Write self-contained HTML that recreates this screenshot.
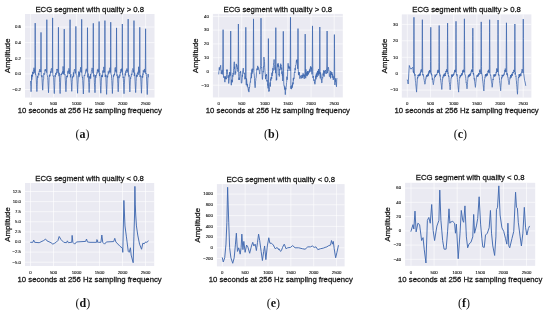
<!DOCTYPE html>
<html><head><meta charset="utf-8"><title>ECG segments</title>
<style>
html,body{margin:0;padding:0;background:#fff;}
svg{display:block}
.t{font-family:"Liberation Sans",Arial,sans-serif;fill:#141414;stroke:#141414;stroke-width:0.25}
.tt{font-size:7.75px;text-anchor:middle}
.tk{font-size:4.3px;stroke-width:0.12}
.cap{font-family:"Liberation Serif","Times New Roman",serif;font-size:12px;fill:#111;text-anchor:middle}
.g{stroke:#fff;stroke-width:0.6;fill:none}
.d{stroke:#4169B0;fill:none;stroke-linejoin:round;stroke-linecap:round}
</style></head><body>
<svg width="550" height="313" viewBox="0 0 550 313">
<rect width="550" height="313" fill="#fff"/>

<g id="panel-a">
<rect x="25.00" y="14.00" width="129.50" height="83.55" fill="#EAEAF2"/>
<path class="g" d="M30.60 14.00V97.55M53.60 14.00V97.55M76.60 14.00V97.55M99.60 14.00V97.55M122.60 14.00V97.55M145.60 14.00V97.55M25.00 27.00H154.50M25.00 42.60H154.50M25.00 58.20H154.50M25.00 73.90H154.50M25.00 89.50H154.50"/>
<clipPath id="cp0"><rect x="25.00" y="14.00" width="129.50" height="83.55"/></clipPath>
<polyline class="d" stroke-width="0.8" clip-path="url(#cp0)" points="30.50,81.30 30.80,86.29 31.07,91.69 31.10,90.92 31.40,84.91 31.70,74.82 31.71,79.77 32.00,74.95 32.06,76.01 32.30,74.82 32.59,76.50 32.60,71.88 32.90,73.21 33.17,72.30 33.20,74.12 33.50,69.88 33.80,69.74 34.04,67.76 34.10,69.23 34.40,71.29 34.50,69.57 34.70,73.17 34.94,72.50 35.00,60.89 35.20,23.10 35.30,45.22 35.43,74.50 35.60,73.68 35.90,75.25 36.07,76.69 36.20,77.61 36.50,84.22 36.80,89.97 36.88,91.57 37.10,86.79 37.40,80.29 37.52,76.05 37.70,76.85 37.87,77.76 38.00,76.32 38.30,74.53 38.40,73.45 38.60,73.00 38.90,75.24 38.98,72.87 39.20,70.97 39.50,70.71 39.80,71.85 39.85,69.06 40.10,70.84 40.31,71.39 40.40,70.84 40.70,70.85 40.75,72.05 41.00,33.93 41.01,32.40 41.24,74.50 41.30,75.85 41.60,75.71 41.88,77.15 41.90,75.34 42.20,82.09 42.50,87.07 42.69,90.18 42.80,88.39 43.10,82.16 43.33,78.97 43.40,79.12 43.68,78.44 43.70,73.75 44.00,73.12 44.21,73.94 44.30,74.52 44.60,74.52 44.79,73.21 44.90,69.66 45.20,70.55 45.50,70.68 45.66,69.20 45.80,70.53 46.10,70.61 46.12,70.74 46.40,72.20 46.56,72.50 46.70,43.93 46.82,19.70 47.00,62.14 47.05,74.50 47.30,75.24 47.60,77.25 47.69,77.56 47.90,80.50 48.20,86.23 48.50,92.25 48.50,92.77 48.80,85.66 49.10,78.09 49.14,77.56 49.40,75.30 49.49,76.51 49.70,74.62 50.00,76.22 50.02,75.12 50.30,74.49 50.60,71.38 50.60,73.00 50.90,72.40 51.20,68.86 51.47,68.55 51.50,69.09 51.80,68.61 51.93,71.41 52.10,72.68 52.37,71.38 52.40,65.93 52.63,17.90 52.70,34.95 52.86,74.50 53.00,76.28 53.30,76.06 53.50,75.97 53.60,77.21 53.90,85.46 54.20,92.48 54.31,93.58 54.50,89.92 54.80,82.18 54.95,77.94 55.10,75.15 55.30,76.72 55.40,75.18 55.70,74.05 55.83,73.00 56.00,74.78 56.30,74.16 56.41,71.99 56.60,72.61 56.90,69.10 57.20,70.29 57.28,68.96 57.50,69.66 57.74,70.87 57.80,72.33 58.10,73.21 58.18,72.50 58.40,34.22 58.44,27.30 58.67,74.50 58.70,74.87 59.00,76.16 59.30,75.57 59.31,72.83 59.60,82.58 59.90,89.44 60.12,93.57 60.20,91.49 60.50,84.01 60.76,77.35 60.80,77.33 61.10,74.21 61.11,74.93 61.40,73.75 61.64,74.92 61.70,74.01 62.00,74.11 62.22,72.57 62.30,73.71 62.60,71.36 62.90,72.59 63.09,66.43 63.20,68.57 63.50,71.93 63.55,74.29 63.80,71.53 63.99,72.56 64.10,54.00 64.25,29.10 64.40,58.40 64.48,74.50 64.70,74.59 65.00,74.06 65.12,76.41 65.30,80.17 65.60,85.92 65.90,91.27 65.93,91.76 66.20,86.20 66.50,79.27 66.57,77.86 66.80,76.17 66.92,77.11 67.10,75.74 67.40,77.16 67.45,76.04 67.70,74.67 68.00,70.77 68.03,73.58 68.30,72.12 68.60,71.29 68.90,70.26 68.90,68.39 69.20,71.34 69.36,70.27 69.50,74.01 69.80,72.50 69.80,72.21 70.06,19.70 70.10,29.13 70.29,74.50 70.40,77.30 70.70,75.03 70.93,74.25 71.00,78.71 71.30,82.57 71.60,87.85 71.74,91.34 71.90,87.97 72.20,81.22 72.38,79.33 72.50,77.04 72.73,77.70 72.80,76.12 73.10,76.92 73.26,74.74 73.40,72.57 73.70,76.41 73.84,72.09 74.00,71.81 74.30,69.82 74.60,69.12 74.71,69.22 74.90,70.03 75.17,71.86 75.20,73.42 75.50,71.97 75.61,72.50 75.80,38.74 75.87,26.40 76.10,74.00 76.10,74.50 76.40,74.55 76.70,75.50 76.74,76.00 77.00,80.86 77.30,87.34 77.55,93.26 77.60,92.15 77.90,84.46 78.19,79.85 78.20,75.77 78.50,75.38 78.54,75.30 78.80,71.48 79.07,77.12 79.10,74.97 79.40,72.21 79.65,75.47 79.70,73.32 80.00,71.78 80.30,69.09 80.52,69.04 80.60,67.29 80.90,71.66 80.98,70.51 81.20,71.92 81.42,72.50 81.50,55.93 81.68,19.30 81.80,47.80 81.91,74.50 82.10,76.03 82.40,77.65 82.55,76.99 82.70,80.53 83.00,85.86 83.30,92.69 83.36,93.94 83.60,88.73 83.90,80.17 84.00,79.32 84.20,75.42 84.35,75.03 84.50,75.44 84.80,75.94 84.88,74.68 85.10,74.18 85.40,73.00 85.46,73.03 85.70,70.26 86.00,70.47 86.30,68.78 86.33,68.83 86.60,70.77 86.79,70.12 86.90,71.26 87.20,72.02 87.23,72.50 87.49,27.70 87.50,29.71 87.72,74.50 87.80,77.37 88.10,73.47 88.36,74.92 88.40,75.64 88.70,82.76 89.00,89.59 89.17,92.51 89.30,89.29 89.60,82.77 89.81,76.72 89.90,78.49 90.16,76.00 90.20,77.33 90.50,74.10 90.69,78.54 90.80,75.32 91.10,74.17 91.27,72.73 91.40,71.26 91.70,69.73 92.00,69.34 92.14,67.86 92.30,70.00 92.60,69.91 92.60,71.81 92.90,73.27 93.04,72.50 93.20,42.12 93.30,23.30 93.50,67.36 93.53,74.50 93.80,76.59 94.10,74.54 94.17,75.86 94.40,82.80 94.70,87.13 94.98,92.71 95.00,92.36 95.30,84.63 95.60,75.35 95.62,76.96 95.90,77.66 95.97,75.03 96.20,75.59 96.50,74.46 96.50,74.60 96.80,73.44 97.08,72.57 97.10,73.29 97.40,69.82 97.70,71.32 97.95,70.10 98.00,68.88 98.30,71.54 98.41,70.09 98.60,70.95 98.85,72.50 98.90,62.46 99.11,21.50 99.20,42.02 99.34,74.50 99.50,76.09 99.80,73.05 99.98,76.46 100.10,78.36 100.40,85.70 100.70,92.37 100.79,93.21 101.00,89.14 101.30,81.15 101.43,77.53 101.60,75.99 101.78,76.71 101.90,74.84 102.20,77.19 102.31,75.33 102.50,76.78 102.80,72.05 102.89,70.52 103.10,72.77 103.40,71.61 103.70,69.21 103.76,66.90 104.00,69.41 104.22,71.80 104.30,71.03 104.60,72.15 104.66,72.50 104.90,24.57 104.92,20.60 105.15,74.50 105.20,76.91 105.50,74.70 105.79,76.62 105.80,74.86 106.10,83.14 106.40,88.74 106.60,94.36 106.70,91.53 107.00,84.62 107.24,75.80 107.30,77.29 107.59,76.08 107.60,77.19 107.90,74.46 108.12,74.71 108.20,71.55 108.50,72.33 108.70,73.39 108.80,73.77 109.10,70.63 109.40,72.33 109.57,71.19 109.70,69.42 110.00,67.71 110.03,68.69 110.30,70.91 110.47,72.50 110.60,47.21 110.73,22.20 110.90,60.46 110.96,74.50 111.20,74.57 111.50,74.79 111.60,78.67 111.80,80.34 112.10,86.54 112.40,93.32 112.41,93.51 112.70,86.20 113.00,80.42 113.05,78.95 113.30,77.25 113.40,75.47 113.60,76.71 113.90,74.58 113.93,75.21 114.20,75.09 114.50,73.87 114.51,75.13 114.80,72.07 115.10,67.95 115.38,67.39 115.40,70.75 115.70,69.92 115.84,71.50 116.00,70.43 116.28,72.50 116.30,68.84 116.54,27.90 116.60,39.93 116.77,74.50 116.90,75.68 117.20,74.56 117.41,77.43 117.50,76.57 117.80,83.32 118.10,89.82 118.22,91.76 118.40,87.80 118.70,81.09 118.86,76.20 119.00,78.12 119.21,76.39 119.30,75.34 119.60,74.72 119.74,75.19 119.90,76.39 120.20,74.29 120.32,72.14 120.50,72.99 120.80,70.48 121.10,69.04 121.19,71.33 121.40,69.31 121.65,70.38 121.70,68.62 122.00,70.37 122.09,72.50 122.30,33.28 122.35,24.00 122.58,74.50 122.60,73.54 122.90,76.12 123.20,77.85 123.22,76.77 123.50,82.39 123.80,88.97 124.03,93.71 124.10,91.33 124.40,84.23 124.67,78.32 124.70,76.82 125.00,76.31 125.02,73.55 125.30,73.99 125.55,75.29 125.60,71.52 125.90,72.06 126.13,72.78 126.20,70.24 126.50,71.20 126.80,68.75 127.00,68.52 127.10,69.02 127.40,70.96 127.46,70.27 127.70,71.93 127.90,72.50 128.00,51.78 128.16,19.10 128.30,52.47 128.39,74.72 128.60,73.47 128.90,76.59 129.03,75.01 129.20,78.16 129.50,85.15 129.80,90.71 129.84,91.93 130.10,86.47 130.40,79.13 130.48,77.67 130.70,78.61 130.83,76.86 131.00,76.21 131.30,76.40 131.36,73.81 131.60,74.67 131.90,74.75 131.94,74.91 132.20,70.57 132.50,69.95 132.80,69.43 132.81,68.52 133.10,69.71 133.27,71.89 133.40,70.98 133.70,70.15 133.71,72.50 133.97,20.60 134.00,27.56 134.20,72.46 134.30,76.05 134.60,72.54 134.84,73.79 134.90,76.86 135.20,83.97 135.50,90.27 135.65,92.55 135.80,89.41 136.10,81.62 136.29,78.81 136.40,75.00 136.64,75.41 136.70,76.83 137.00,74.63 137.17,76.51 137.30,73.05 137.60,73.73 137.75,73.91 137.90,71.93 138.20,72.57 138.50,70.14 138.62,66.77 138.80,74.87 139.08,71.84 139.10,71.20 139.40,70.27 139.52,72.50 139.70,41.13 139.78,27.30 140.00,71.98 140.01,76.91 140.30,75.36 140.60,76.55 140.65,76.48 140.90,81.07 141.20,87.26 141.46,93.23 141.50,92.26 141.80,84.53 142.10,76.15 142.10,77.41 142.40,77.40 142.45,75.56 142.70,77.40 142.98,73.59 143.00,74.71 143.30,70.32 143.56,72.03 143.60,72.20 143.90,71.93 144.20,72.14 144.43,68.95 144.50,71.12 144.80,71.44 144.89,72.28 145.10,71.11 145.33,72.50 145.40,60.56 145.59,28.80 145.70,50.43 145.82,73.83 146.00,73.02 146.30,74.95 146.46,76.46 146.60,79.04 146.90,85.39 147.20,93.28 147.27,94.53 147.50,88.84 147.80,80.82 147.91,76.64 148.10,73.96 148.26,74.41 148.40,76.93"/>
<text class="t tk" text-anchor="middle" x="30.60" y="104.90">0</text>
<text class="t tk" text-anchor="middle" x="53.60" y="104.90">500</text>
<text class="t tk" text-anchor="middle" x="76.60" y="104.90">1000</text>
<text class="t tk" text-anchor="middle" x="99.60" y="104.90">1500</text>
<text class="t tk" text-anchor="middle" x="122.60" y="104.90">2000</text>
<text class="t tk" text-anchor="middle" x="145.60" y="104.90">2500</text>
<text class="t tk" text-anchor="end" x="21.00" y="28.30">0.6</text>
<text class="t tk" text-anchor="end" x="21.00" y="43.90">0.4</text>
<text class="t tk" text-anchor="end" x="21.00" y="59.50">0.2</text>
<text class="t tk" text-anchor="end" x="21.00" y="75.20">0.0</text>
<text class="t tk" text-anchor="end" x="21.00" y="90.80">−0.2</text>
<text class="t tt" transform="translate(89.75 11.50) scale(1 1.03)">ECG segment with quality &gt; 0.8</text>
<text class="t tt" transform="translate(89.75 113.20) scale(1 1.03)">10 seconds at 256 Hz sampling frequency</text>
<text class="t tt" transform="translate(9.70 55.77) rotate(-90)">Amplitude</text>
<text class="cap" x="82.60" y="138.40">(<tspan font-weight="bold">a</tspan>)</text>
</g>
<g id="panel-b">
<rect x="212.90" y="13.90" width="129.90" height="83.55" fill="#EAEAF2"/>
<path class="g" d="M218.60 13.90V97.45M241.72 13.90V97.45M264.84 13.90V97.45M287.96 13.90V97.45M311.08 13.90V97.45M334.20 13.90V97.45M212.90 16.40H342.80M212.90 30.10H342.80M212.90 43.90H342.80M212.90 57.70H342.80M212.90 71.50H342.80M212.90 85.20H342.80"/>
<clipPath id="cp1"><rect x="212.90" y="13.90" width="129.90" height="83.55"/></clipPath>
<polyline class="d" stroke-width="0.8" clip-path="url(#cp1)" points="218.70,73.99 218.90,71.57 219.10,70.87 219.30,67.42 219.50,70.00 219.70,69.40 219.90,68.99 220.10,67.18 220.30,67.29 220.50,65.68 220.70,65.23 220.90,70.17 221.10,71.36 221.30,73.97 221.50,72.01 221.70,71.44 221.90,71.40 222.10,69.90 222.30,74.40 222.50,71.29 222.70,71.65 222.90,59.46 223.10,30.07 223.10,29.70 223.30,59.91 223.50,77.18 223.70,77.03 223.90,77.72 224.10,76.89 224.30,76.29 224.50,77.60 224.70,79.66 224.90,82.15 225.10,77.08 225.30,78.53 225.50,78.63 225.70,76.28 225.90,79.22 226.10,77.86 226.30,79.11 226.50,74.57 226.70,69.64 226.90,71.16 227.10,70.75 227.30,69.69 227.50,72.94 227.70,74.26 227.90,75.07 228.10,77.91 228.30,75.34 228.50,80.00 228.70,83.48 228.90,81.69 229.10,80.32 229.30,78.54 229.50,77.37 229.70,72.05 229.90,76.16 230.10,72.33 230.30,75.24 230.50,59.85 230.70,31.38 230.70,31.00 230.90,63.83 231.10,82.26 231.30,85.20 231.50,79.73 231.70,81.90 231.90,82.67 232.10,80.09 232.30,80.93 232.50,81.77 232.70,75.02 232.90,76.57 233.10,73.07 233.30,74.59 233.50,70.40 233.70,68.73 233.90,66.67 234.10,64.00 234.30,61.79 234.50,68.92 234.70,66.63 234.90,71.76 235.10,74.70 235.30,71.43 235.50,72.30 235.70,73.24 235.90,70.41 236.10,68.14 236.30,63.90 236.50,66.40 236.70,66.25 236.90,65.58 237.10,65.50 237.30,68.58 237.50,67.76 237.70,69.35 237.90,71.66 238.10,70.30 238.30,40.55 238.40,24.00 238.50,41.55 238.70,76.57 238.90,79.96 239.10,77.87 239.30,79.98 239.50,79.69 239.70,76.42 239.90,73.83 240.10,72.07 240.30,72.98 240.50,70.98 240.70,71.43 240.90,75.19 241.10,78.00 241.30,83.14 241.50,83.12 241.70,83.12 241.90,81.74 242.10,79.12 242.30,74.88 242.50,76.58 242.70,71.14 242.90,71.02 243.10,69.25 243.30,68.14 243.50,72.06 243.70,72.74 243.90,72.69 244.10,73.86 244.30,72.91 244.50,73.42 244.70,75.06 244.90,79.26 245.10,78.06 245.30,76.46 245.50,78.96 245.70,44.55 245.80,27.30 245.90,43.98 246.10,81.04 246.30,85.20 246.50,78.49 246.70,80.47 246.90,82.83 247.10,83.76 247.30,86.55 247.50,84.12 247.70,87.48 247.90,87.86 248.10,87.78 248.30,90.36 248.50,90.67 248.70,89.27 248.90,92.08 249.10,87.18 249.30,88.36 249.50,87.26 249.70,86.91 249.90,83.55 250.10,83.33 250.30,81.75 250.50,82.28 250.70,77.83 250.90,77.91 251.10,75.94 251.30,72.78 251.50,78.18 251.70,72.71 251.90,69.50 252.10,73.62 252.30,68.61 252.50,70.77 252.70,71.81 252.90,69.44 253.10,70.01 253.30,53.38 253.50,19.31 253.50,18.90 253.70,51.63 253.90,72.69 254.10,73.58 254.30,75.16 254.50,78.27 254.70,83.93 254.90,85.97 255.10,87.73 255.30,86.89 255.50,81.22 255.70,80.61 255.90,78.08 256.10,77.84 256.30,76.05 256.50,72.25 256.70,71.20 256.90,68.57 257.10,69.99 257.30,69.63 257.50,68.96 257.70,65.87 257.90,69.89 258.10,69.14 258.30,67.55 258.50,67.41 258.70,68.36 258.90,69.76 259.10,70.08 259.30,71.53 259.50,72.61 259.70,74.10 259.90,72.73 260.10,69.59 260.30,69.44 260.50,67.12 260.70,65.78 260.90,35.54 261.00,18.20 261.10,33.10 261.30,66.77 261.50,67.59 261.70,67.08 261.90,72.50 262.10,74.69 262.30,79.32 262.50,79.46 262.70,76.46 262.90,74.39 263.10,70.97 263.30,72.24 263.50,66.59 263.70,67.20 263.90,57.11 264.10,59.10 264.30,59.37 264.50,61.51 264.70,67.47 264.90,70.30 265.10,72.35 265.30,74.72 265.50,79.16 265.70,75.21 265.90,75.69 266.10,74.84 266.30,76.21 266.50,74.19 266.70,76.45 266.90,81.36 267.10,80.01 267.30,80.62 267.50,82.74 267.70,85.39 267.90,84.53 268.10,88.38 268.30,55.46 268.40,38.60 268.50,54.61 268.70,91.36 268.90,91.59 269.10,90.55 269.30,91.08 269.50,87.33 269.70,86.86 269.90,84.29 270.10,82.52 270.30,86.49 270.50,81.20 270.70,78.79 270.90,80.52 271.10,77.28 271.30,78.59 271.50,77.08 271.70,78.65 271.90,72.87 272.10,75.98 272.30,74.29 272.50,71.13 272.70,73.16 272.90,68.12 273.10,70.61 273.30,66.97 273.50,65.53 273.70,62.74 273.90,62.54 274.10,59.47 274.30,64.41 274.50,64.85 274.70,68.04 274.90,69.12 275.10,70.00 275.30,67.53 275.50,73.17 275.70,43.87 275.80,27.70 275.90,42.08 276.10,72.96 276.30,80.35 276.50,77.69 276.70,79.87 276.90,71.89 277.10,68.50 277.30,66.86 277.50,65.89 277.70,64.12 277.90,66.64 278.10,63.18 278.30,66.82 278.50,64.93 278.70,65.86 278.90,74.97 279.10,74.36 279.30,76.47 279.50,71.32 279.70,68.91 279.90,70.05 280.10,69.45 280.30,66.38 280.50,68.41 280.70,63.71 280.90,65.67 281.10,65.05 281.30,68.04 281.50,69.44 281.70,67.68 281.90,73.94 282.10,71.51 282.30,75.51 282.50,74.05 282.70,80.99 282.90,79.11 283.10,64.84 283.30,31.70 283.30,31.30 283.50,62.93 283.70,81.93 283.90,85.08 284.10,86.08 284.30,85.83 284.50,88.14 284.70,89.52 284.90,86.52 285.10,90.67 285.30,94.65 285.50,91.46 285.70,88.12 285.90,89.32 286.10,87.07 286.30,86.71 286.50,82.62 286.70,82.44 286.90,76.62 287.10,79.84 287.30,79.08 287.50,76.59 287.70,69.81 287.90,70.93 288.10,63.31 288.30,68.47 288.50,67.63 288.70,65.79 288.90,67.82 289.10,67.22 289.30,68.33 289.50,66.70 289.70,68.36 289.90,67.16 290.10,70.99 290.30,55.99 290.50,17.78 290.50,17.30 290.70,58.90 290.90,88.77 291.10,86.06 291.30,87.56 291.50,89.13 291.70,87.40 291.90,87.74 292.10,85.02 292.30,87.51 292.50,83.65 292.70,85.19 292.90,82.34 293.10,84.03 293.30,78.18 293.50,80.43 293.70,77.82 293.90,77.95 294.10,78.58 294.30,73.62 294.50,72.30 294.70,71.85 294.90,72.98 295.10,68.19 295.30,70.06 295.50,66.21 295.70,64.95 295.90,64.77 296.10,64.55 296.30,61.33 296.50,60.11 296.70,61.88 296.90,62.49 297.10,59.40 297.30,64.22 297.50,66.09 297.70,68.82 297.90,43.21 298.00,28.60 298.10,42.10 298.30,69.76 298.50,74.72 298.70,72.06 298.90,73.84 299.10,75.26 299.30,72.22 299.50,74.71 299.70,76.30 299.90,78.68 300.10,76.55 300.30,75.79 300.50,76.14 300.70,76.52 300.90,75.82 301.10,78.13 301.30,78.34 301.50,77.56 301.70,78.15 301.90,75.15 302.10,76.37 302.30,74.87 302.50,75.79 302.70,78.05 302.90,76.17 303.10,73.30 303.30,76.29 303.50,75.76 303.70,74.65 303.90,75.68 304.10,78.16 304.30,78.88 304.50,74.70 304.70,76.73 304.90,76.53 305.10,47.05 305.20,34.10 305.30,46.91 305.50,72.65 305.70,78.23 305.90,69.32 306.10,71.40 306.30,73.99 306.50,74.54 306.70,75.70 306.90,72.22 307.10,76.17 307.30,74.32 307.50,71.08 307.70,74.88 307.90,72.86 308.10,73.94 308.30,72.48 308.50,74.31 308.70,72.29 308.90,70.98 309.10,72.70 309.30,71.09 309.50,69.56 309.70,72.10 309.90,68.98 310.10,68.34 310.30,68.26 310.50,66.43 310.70,67.73 310.90,71.59 311.10,66.80 311.30,69.20 311.50,68.13 311.70,69.81 311.90,74.26 312.10,74.04 312.30,57.21 312.50,26.28 312.50,25.90 312.70,57.33 312.90,77.77 313.10,77.21 313.30,76.00 313.50,78.95 313.70,80.29 313.90,80.98 314.10,80.74 314.30,79.59 314.50,82.66 314.70,82.08 314.90,84.25 315.10,82.70 315.30,82.02 315.50,79.16 315.70,75.67 315.90,79.38 316.10,79.07 316.30,73.86 316.50,76.01 316.70,77.21 316.90,72.75 317.10,76.99 317.30,72.79 317.50,70.95 317.70,74.51 317.90,72.42 318.10,70.94 318.30,73.68 318.50,68.99 318.70,75.54 318.90,71.20 319.10,73.21 319.30,72.18 319.50,73.73 319.70,43.25 319.80,27.00 319.90,41.60 320.10,74.35 320.30,78.43 320.50,72.48 320.70,74.30 320.90,74.22 321.10,75.83 321.30,80.04 321.50,79.42 321.70,82.87 321.90,82.92 322.10,80.31 322.30,77.40 322.50,78.03 322.70,78.21 322.90,76.35 323.10,73.50 323.30,75.37 323.50,70.48 323.70,71.11 323.90,73.27 324.10,76.58 324.30,73.36 324.50,70.74 324.70,73.26 324.90,73.21 325.10,73.44 325.30,70.92 325.50,70.02 325.70,71.35 325.90,71.61 326.10,73.39 326.30,73.99 326.50,68.96 326.70,69.08 326.90,57.05 327.10,31.30 327.10,31.00 327.30,56.75 327.50,73.11 327.70,71.31 327.90,70.84 328.10,68.05 328.30,67.12 328.50,67.50 328.70,69.65 328.90,70.88 329.10,70.70 329.30,76.28 329.50,76.72 329.70,76.47 329.90,75.18 330.10,73.50 330.30,74.13 330.50,78.33 330.70,70.93 330.90,74.43 331.10,74.95 331.30,73.42 331.50,72.33 331.70,74.80 331.90,72.24 332.10,75.69 332.30,77.80 332.50,74.22 332.70,75.22 332.90,77.47 333.10,79.15 333.30,79.91 333.50,78.96 333.70,76.83 333.90,76.24 334.10,78.71 334.30,49.80 334.40,34.60 334.50,48.32 334.70,78.55 334.90,84.94 335.10,80.91 335.30,78.24 335.50,81.71 335.70,79.61 335.90,81.70 336.10,83.13 336.30,85.44 336.50,86.75 336.70,79.79 336.90,78.45"/>
<text class="t tk" text-anchor="middle" x="218.60" y="104.90">0</text>
<text class="t tk" text-anchor="middle" x="241.72" y="104.90">500</text>
<text class="t tk" text-anchor="middle" x="264.84" y="104.90">1000</text>
<text class="t tk" text-anchor="middle" x="287.96" y="104.90">1500</text>
<text class="t tk" text-anchor="middle" x="311.08" y="104.90">2000</text>
<text class="t tk" text-anchor="middle" x="334.20" y="104.90">2500</text>
<text class="t tk" text-anchor="end" x="208.90" y="17.70">40</text>
<text class="t tk" text-anchor="end" x="208.90" y="31.40">30</text>
<text class="t tk" text-anchor="end" x="208.90" y="45.20">20</text>
<text class="t tk" text-anchor="end" x="208.90" y="59.00">10</text>
<text class="t tk" text-anchor="end" x="208.90" y="72.80">0</text>
<text class="t tk" text-anchor="end" x="208.90" y="86.50">−10</text>
<text class="t tt" transform="translate(277.85 11.50) scale(1 1.03)">ECG segment with quality &gt; 0.8</text>
<text class="t tt" transform="translate(277.85 113.20) scale(1 1.03)">10 seconds at 256 Hz sampling frequency</text>
<text class="t tt" transform="translate(198.30 55.68) rotate(-90)">Amplitude</text>
<text class="cap" x="271.40" y="138.40">(<tspan font-weight="bold">b</tspan>)</text>
</g>
<g id="panel-c">
<rect x="401.80" y="14.40" width="129.60" height="83.20" fill="#EAEAF2"/>
<path class="g" d="M407.30 14.40V97.60M430.48 14.40V97.60M453.66 14.40V97.60M476.84 14.40V97.60M500.02 14.40V97.60M523.20 14.40V97.60M401.80 24.40H531.40M401.80 40.80H531.40M401.80 57.30H531.40M401.80 73.70H531.40M401.80 90.10H531.40"/>
<clipPath id="cp2"><rect x="401.80" y="14.40" width="129.60" height="83.20"/></clipPath>
<polyline class="d" stroke-width="0.8" clip-path="url(#cp2)" points="407.30,80.00 407.70,81.50 408.20,84.00 408.70,75.00 409.30,65.50 410.00,67.50 411.00,69.20 411.90,68.00 412.80,67.30 413.24,71.73 413.28,71.91 413.36,71.66 413.48,72.30 413.60,71.48 413.61,72.81 413.72,54.65 413.84,35.17 413.95,17.30 413.96,18.97 414.08,39.07 414.20,59.16 414.29,73.70 414.32,72.88 414.44,73.17 414.56,74.10 414.68,74.85 414.80,75.64 414.92,75.60 414.96,74.19 415.04,76.12 415.16,78.08 415.28,78.93 415.40,80.50 415.52,81.09 415.64,82.34 415.76,83.73 415.88,85.01 416.00,86.20 416.12,87.41 416.24,88.49 416.36,89.92 416.48,91.10 416.56,92.12 416.60,91.46 416.72,89.22 416.84,87.06 416.96,84.97 417.08,83.13 417.20,81.02 417.32,78.93 417.32,79.00 417.44,78.02 417.56,78.30 417.65,77.11 417.68,78.10 417.80,77.09 417.92,76.74 418.04,75.16 418.16,75.51 418.16,75.88 418.28,74.92 418.40,75.51 418.52,75.85 418.64,75.08 418.67,76.20 418.76,76.41 418.88,75.12 419.00,75.73 419.12,74.47 419.24,75.12 419.34,73.95 419.36,75.72 419.48,75.18 419.60,74.83 419.72,74.27 419.84,75.53 419.96,75.91 420.01,73.39 420.08,75.14 420.20,74.93 420.32,73.63 420.44,72.17 420.56,73.05 420.68,71.91 420.69,71.61 420.80,70.81 420.92,71.56 421.04,71.31 421.16,69.99 421.28,70.34 421.28,69.27 421.40,70.91 421.52,70.79 421.64,71.00 421.70,71.23 421.76,72.00 421.88,72.17 422.00,72.28 422.03,72.00 422.12,58.11 422.24,38.90 422.36,19.70 422.36,19.70 422.48,38.94 422.60,58.18 422.70,73.70 422.72,75.18 422.84,74.37 422.96,74.34 423.08,74.64 423.20,74.97 423.32,75.38 423.37,74.77 423.44,75.54 423.56,75.88 423.68,77.35 423.80,77.64 423.92,78.81 424.04,79.03 424.16,79.99 424.28,80.49 424.40,81.53 424.52,81.38 424.64,82.28 424.76,83.23 424.88,84.20 424.97,84.15 425.00,84.00 425.12,83.13 425.24,82.61 425.36,81.47 425.48,80.83 425.60,79.82 425.72,78.81 425.73,79.06 425.84,78.80 425.96,78.74 426.06,77.33 426.08,76.94 426.20,77.23 426.32,76.55 426.44,76.10 426.56,75.39 426.57,76.15 426.68,75.77 426.80,76.91 426.92,76.54 427.04,76.39 427.08,74.94 427.16,76.27 427.28,75.97 427.40,76.04 427.52,76.02 427.64,74.90 427.75,75.54 427.76,74.63 427.88,76.19 428.00,73.99 428.12,73.64 428.24,73.64 428.36,74.06 428.42,73.87 428.48,75.65 428.60,73.70 428.72,72.58 428.84,73.71 428.96,72.14 429.08,71.26 429.10,72.57 429.20,72.05 429.32,70.96 429.44,71.75 429.56,70.51 429.68,71.07 429.69,70.33 429.80,71.37 429.92,70.80 430.04,70.30 430.11,72.89 430.16,71.06 430.28,71.53 430.40,71.45 430.44,72.00 430.52,61.50 430.64,45.08 430.76,28.67 430.77,27.30 430.88,42.45 431.00,58.99 431.11,73.70 431.12,73.30 431.24,72.97 431.36,74.91 431.48,74.37 431.60,74.82 431.72,75.34 431.78,74.59 431.84,75.28 431.96,76.96 432.08,77.61 432.20,77.60 432.32,79.75 432.44,78.40 432.56,79.87 432.68,80.57 432.80,80.76 432.92,82.36 433.04,82.74 433.16,83.14 433.28,84.43 433.38,84.71 433.40,84.54 433.52,83.45 433.64,82.70 433.76,81.50 433.88,81.06 434.00,79.95 434.12,79.16 434.14,79.23 434.24,78.70 434.36,78.12 434.47,77.58 434.48,76.90 434.60,77.45 434.72,77.43 434.84,76.45 434.96,76.05 434.98,74.83 435.08,74.95 435.20,74.72 435.32,76.60 435.44,75.78 435.49,76.91 435.56,75.38 435.68,75.43 435.80,75.59 435.92,75.95 436.04,75.22 436.16,75.14 436.16,75.01 436.28,75.04 436.40,74.13 436.52,74.84 436.64,74.59 436.76,74.61 436.83,74.92 436.88,73.97 437.00,73.90 437.12,73.30 437.24,73.30 437.36,73.07 437.48,71.48 437.51,72.38 437.60,73.02 437.72,70.32 437.84,70.33 437.96,69.89 438.08,69.87 438.10,71.05 438.20,70.33 438.32,70.24 438.44,71.47 438.52,70.91 438.56,72.12 438.68,71.84 438.80,72.79 438.85,72.00 438.92,62.50 439.04,45.42 439.16,28.35 439.18,25.50 439.28,39.81 439.40,56.98 439.52,73.70 439.52,73.19 439.64,74.21 439.76,73.81 439.88,75.07 440.00,75.61 440.12,74.85 440.19,76.28 440.24,75.77 440.36,77.70 440.48,78.26 440.60,79.74 440.72,79.39 440.84,80.99 440.96,82.37 441.08,83.00 441.20,83.75 441.32,84.79 441.44,85.71 441.56,86.82 441.68,88.18 441.79,89.45 441.80,88.98 441.92,87.52 442.04,85.82 442.16,84.22 442.28,82.57 442.40,80.96 442.52,79.47 442.55,78.77 442.64,79.22 442.76,78.59 442.88,77.30 442.88,77.92 443.00,76.49 443.12,76.12 443.24,76.10 443.36,75.40 443.39,75.11 443.48,75.07 443.60,75.29 443.72,76.40 443.84,74.67 443.90,76.23 443.96,75.75 444.08,76.20 444.20,75.88 444.32,73.56 444.44,75.57 444.56,75.22 444.57,75.01 444.68,74.63 444.80,75.42 444.92,74.52 445.04,75.91 445.16,75.02 445.24,75.99 445.28,73.94 445.40,72.85 445.52,73.99 445.64,73.62 445.76,72.63 445.88,71.14 445.92,71.71 446.00,72.12 446.12,71.19 446.24,70.83 446.36,70.38 446.48,69.48 446.51,69.65 446.60,69.36 446.72,71.81 446.84,70.72 446.93,71.61 446.96,70.71 447.08,72.14 447.20,70.65 447.26,72.00 447.32,63.50 447.44,45.54 447.56,27.59 447.59,23.10 447.68,36.62 447.80,54.65 447.92,72.68 447.93,73.70 448.04,72.61 448.16,73.78 448.28,74.94 448.40,75.68 448.52,75.10 448.60,76.84 448.64,77.00 448.76,76.89 448.88,76.43 449.00,77.92 449.12,79.64 449.24,81.94 449.36,82.35 449.48,82.95 449.60,84.39 449.72,85.82 449.84,86.51 449.96,87.51 450.08,89.13 450.20,89.81 450.20,89.71 450.32,88.16 450.44,86.39 450.56,84.59 450.68,83.20 450.80,81.47 450.92,79.71 450.96,78.98 451.04,78.83 451.16,78.01 451.28,77.77 451.29,78.07 451.40,77.51 451.52,77.67 451.64,76.33 451.76,74.46 451.80,74.65 451.88,76.37 452.00,75.42 452.12,76.03 452.24,75.37 452.31,76.65 452.36,75.67 452.48,76.69 452.60,75.22 452.72,76.11 452.84,75.64 452.96,74.56 452.98,75.71 453.08,74.35 453.20,74.33 453.32,75.27 453.44,74.32 453.56,74.27 453.65,74.38 453.68,73.84 453.80,74.71 453.92,73.96 454.04,73.06 454.16,72.57 454.28,72.47 454.33,73.15 454.40,72.32 454.52,71.01 454.64,71.44 454.76,70.45 454.88,69.99 454.92,71.21 455.00,69.99 455.12,70.32 455.24,69.73 455.34,70.39 455.36,71.64 455.48,71.15 455.60,72.18 455.67,72.00 455.72,64.74 455.84,46.12 455.96,27.51 456.00,21.30 456.08,33.75 456.20,52.42 456.32,71.09 456.34,73.70 456.44,73.91 456.56,74.71 456.68,74.35 456.80,75.23 456.92,74.23 457.01,74.96 457.04,76.15 457.16,75.57 457.28,77.53 457.40,79.46 457.52,79.57 457.64,81.95 457.76,82.62 457.88,84.30 458.00,85.53 458.12,86.84 458.24,87.92 458.36,89.27 458.48,90.36 458.60,91.80 458.61,92.13 458.72,89.98 458.84,87.95 458.96,85.66 459.08,84.00 459.20,81.69 459.32,79.65 459.37,79.11 459.44,78.69 459.56,78.81 459.68,78.46 459.70,77.05 459.80,77.11 459.92,77.69 460.04,76.70 460.16,76.06 460.21,76.25 460.28,75.09 460.40,76.04 460.52,76.68 460.64,76.96 460.72,75.48 460.76,75.77 460.88,76.00 461.00,75.39 461.12,75.14 461.24,75.67 461.36,74.81 461.39,73.84 461.48,75.18 461.60,74.60 461.72,74.33 461.84,73.71 461.96,75.32 462.06,73.15 462.08,73.43 462.20,73.89 462.32,74.40 462.44,73.99 462.56,71.93 462.68,72.10 462.74,71.02 462.80,72.44 462.92,70.42 463.04,70.88 463.16,71.23 463.28,70.01 463.33,70.96 463.40,69.66 463.52,70.84 463.64,71.53 463.75,71.21 463.76,72.23 463.88,71.93 464.00,70.76 464.08,72.00 464.12,66.01 464.24,46.47 464.36,26.94 464.41,18.80 464.48,30.21 464.60,49.77 464.72,69.33 464.75,73.70 464.84,74.04 464.96,74.60 465.08,74.83 465.20,74.81 465.32,75.11 465.42,76.22 465.44,76.17 465.56,76.23 465.68,76.90 465.80,78.56 465.92,80.35 466.04,80.56 466.16,82.69 466.28,82.39 466.40,83.55 466.52,84.01 466.64,85.37 466.76,86.41 466.88,87.55 467.00,88.77 467.02,88.61 467.12,87.62 467.24,85.94 467.36,84.49 467.48,82.68 467.60,81.53 467.72,79.53 467.78,79.10 467.84,78.52 467.96,77.80 468.08,76.62 468.11,77.06 468.20,77.29 468.32,76.54 468.44,75.24 468.56,76.59 468.62,75.62 468.68,76.13 468.80,76.12 468.92,75.32 469.04,74.63 469.13,75.40 469.16,76.74 469.28,75.09 469.40,76.12 469.52,75.02 469.64,75.49 469.76,73.87 469.80,75.76 469.88,74.93 470.00,75.46 470.12,74.93 470.24,75.26 470.36,74.60 470.47,75.08 470.48,73.59 470.60,73.41 470.72,74.12 470.84,73.16 470.96,72.57 471.08,72.14 471.15,72.33 471.20,71.43 471.32,71.74 471.44,70.41 471.56,70.33 471.68,70.83 471.74,70.70 471.80,69.49 471.92,71.12 472.04,70.27 472.16,71.78 472.16,70.07 472.28,70.83 472.40,71.48 472.49,72.00 472.52,68.41 472.64,52.32 472.76,36.24 472.82,28.20 472.88,36.31 473.00,52.52 473.12,68.73 473.16,73.70 473.24,73.82 473.36,73.38 473.48,74.49 473.60,73.07 473.72,74.91 473.83,74.86 473.84,76.02 473.96,76.14 474.08,77.13 474.20,79.10 474.32,78.43 474.44,80.20 474.56,79.65 474.68,81.78 474.80,82.73 474.92,83.70 475.04,84.25 475.16,85.37 475.28,86.25 475.40,87.07 475.43,87.33 475.52,86.41 475.64,85.08 475.76,83.49 475.88,82.14 476.00,81.55 476.12,80.12 476.19,78.73 476.24,78.84 476.36,78.59 476.48,78.10 476.52,77.49 476.60,76.50 476.72,76.51 476.84,75.83 476.96,75.76 477.03,75.23 477.08,75.37 477.20,76.26 477.32,76.54 477.44,75.12 477.54,75.70 477.56,75.45 477.68,76.58 477.80,75.57 477.92,76.37 478.04,74.94 478.16,75.09 478.21,74.12 478.28,75.80 478.40,74.65 478.52,73.85 478.64,74.36 478.76,73.17 478.88,74.58 478.88,74.67 479.00,74.33 479.12,74.66 479.24,73.02 479.36,73.28 479.48,72.50 479.56,71.87 479.60,70.50 479.72,72.06 479.84,70.71 479.96,70.64 480.08,69.40 480.15,70.18 480.20,70.24 480.32,70.56 480.44,70.82 480.56,71.96 480.57,71.93 480.68,72.01 480.80,73.94 480.90,72.00 480.92,69.42 481.04,51.03 481.16,32.63 481.23,21.90 481.28,29.59 481.40,48.05 481.52,66.50 481.57,73.70 481.64,72.88 481.76,73.82 481.88,74.45 482.00,74.38 482.12,75.52 482.24,75.50 482.24,75.71 482.36,76.20 482.48,78.85 482.60,79.03 482.72,81.05 482.84,81.10 482.96,82.95 483.08,83.61 483.20,84.73 483.32,85.96 483.44,87.26 483.56,88.41 483.68,89.93 483.80,90.58 483.84,90.99 483.92,90.25 484.04,88.10 484.16,85.68 484.28,84.22 484.40,82.23 484.52,79.84 484.60,78.93 484.64,78.80 484.76,78.71 484.88,78.28 484.93,77.46 485.00,77.81 485.12,76.57 485.24,75.63 485.36,75.11 485.44,75.75 485.48,74.17 485.60,76.03 485.72,75.01 485.84,75.64 485.95,76.33 485.96,76.77 486.08,74.54 486.20,75.10 486.32,75.48 486.44,74.88 486.56,75.65 486.62,73.64 486.68,75.20 486.80,75.17 486.92,74.85 487.04,75.47 487.16,73.88 487.28,75.33 487.29,74.14 487.40,74.66 487.52,73.51 487.64,73.79 487.76,73.30 487.88,71.38 487.97,71.90 488.00,71.82 488.12,71.32 488.24,70.58 488.36,71.87 488.48,70.39 488.56,71.01 488.60,69.77 488.72,69.82 488.84,70.96 488.96,70.88 488.98,72.85 489.08,71.67 489.20,72.51 489.31,72.00 489.32,70.91 489.44,51.71 489.56,32.50 489.64,19.70 489.68,26.11 489.80,45.35 489.92,64.59 489.98,73.70 490.04,74.24 490.16,74.49 490.28,74.50 490.40,74.44 490.52,75.25 490.64,75.84 490.65,75.48 490.76,76.37 490.88,77.08 491.00,78.65 491.12,78.65 491.24,79.93 491.36,80.95 491.48,81.71 491.60,82.74 491.72,83.45 491.84,84.32 491.96,84.79 492.08,86.07 492.20,87.28 492.25,87.04 492.32,86.25 492.44,85.10 492.56,84.05 492.68,82.65 492.80,81.16 492.92,79.95 493.01,79.20 493.04,78.98 493.16,79.86 493.28,78.36 493.34,77.63 493.40,77.58 493.52,76.48 493.64,75.60 493.76,75.87 493.85,75.72 493.88,74.53 494.00,75.24 494.12,75.48 494.24,76.04 494.36,75.83 494.36,76.28 494.48,75.88 494.60,76.33 494.72,74.35 494.84,76.36 494.96,76.02 495.03,75.03 495.08,75.39 495.20,75.29 495.32,74.35 495.44,74.86 495.56,75.19 495.68,74.81 495.70,75.28 495.80,74.29 495.92,73.81 496.04,72.80 496.16,72.60 496.28,72.07 496.38,73.11 496.40,72.07 496.52,70.86 496.64,71.36 496.76,70.57 496.88,68.30 496.97,70.31 497.00,69.10 497.12,70.85 497.24,70.22 497.36,70.27 497.39,71.62 497.48,70.52 497.60,71.45 497.72,71.99 497.72,72.00 497.84,53.41 497.96,34.32 498.05,20.00 498.08,24.78 498.20,43.92 498.32,63.05 498.39,73.70 498.44,74.60 498.56,74.86 498.68,73.80 498.80,75.04 498.92,75.62 499.04,75.90 499.06,75.37 499.16,76.62 499.28,77.29 499.40,77.90 499.52,80.42 499.64,80.53 499.76,82.91 499.88,83.25 500.00,84.08 500.12,85.34 500.24,86.43 500.36,87.43 500.48,88.82 500.60,89.75 500.66,90.72 500.72,89.67 500.84,87.52 500.96,85.89 501.08,84.04 501.20,81.97 501.32,80.66 501.42,79.19 501.44,79.08 501.56,78.03 501.68,78.45 501.75,77.26 501.80,77.83 501.92,77.92 502.04,76.36 502.16,74.87 502.26,75.19 502.28,75.84 502.40,76.36 502.52,74.97 502.64,75.73 502.76,76.15 502.77,76.28 502.88,76.42 503.00,75.03 503.12,75.20 503.24,75.95 503.36,75.37 503.44,75.29 503.48,75.71 503.60,74.97 503.72,75.18 503.84,74.56 503.96,73.82 504.08,73.78 504.11,74.65 504.20,74.13 504.32,73.37 504.44,73.54 504.56,72.29 504.68,72.48 504.79,71.99 504.80,71.41 504.92,70.05 505.04,72.08 505.16,70.94 505.28,68.59 505.38,69.72 505.40,70.33 505.52,70.30 505.64,71.19 505.76,70.55 505.80,71.41 505.88,71.44 506.00,71.60 506.12,71.83 506.13,72.00 506.24,55.92 506.36,37.86 506.46,22.80 506.48,25.82 506.60,43.96 506.72,62.09 506.80,73.70 506.84,74.65 506.96,74.06 507.08,72.98 507.20,74.73 507.32,75.33 507.44,75.30 507.47,75.40 507.56,74.41 507.68,76.98 507.80,77.10 507.92,76.99 508.04,78.07 508.16,78.73 508.28,80.07 508.40,80.72 508.52,81.57 508.64,82.06 508.76,82.33 508.88,82.98 509.00,84.13 509.07,84.61 509.12,83.91 509.24,83.22 509.36,81.98 509.48,81.05 509.60,80.37 509.72,79.69 509.83,78.90 509.84,78.90 509.96,78.05 510.08,78.24 510.16,78.33 510.20,77.28 510.32,78.11 510.44,75.90 510.56,75.49 510.67,75.65 510.68,75.18 510.80,76.32 510.92,75.28 511.04,76.70 511.16,76.11 511.18,77.67 511.28,75.54 511.40,75.53 511.52,75.58 511.64,73.89 511.76,75.52 511.85,75.31 511.88,75.05 512.00,73.91 512.12,73.83 512.24,75.15 512.36,75.46 512.48,75.66 512.52,74.02 512.60,73.63 512.72,73.66 512.84,72.09 512.96,72.53 513.08,73.00 513.20,73.06 513.20,72.17 513.32,72.65 513.44,71.44 513.56,70.89 513.68,70.25 513.79,70.12 513.80,69.88 513.92,70.32 514.04,70.36 514.16,71.33 514.21,71.31 514.28,70.49 514.40,71.55 514.52,71.40 514.54,72.00 514.64,57.78 514.76,40.16 514.87,24.00 514.88,25.48 515.00,43.18 515.12,60.89 515.21,74.43 515.24,72.50 515.36,74.67 515.48,74.84 515.60,74.86 515.72,75.26 515.84,75.43 515.88,76.56 515.96,76.16 516.08,77.68 516.20,79.20 516.32,80.76 516.44,80.83 516.56,84.26 516.68,84.79 516.80,86.25 516.92,87.56 517.04,88.87 517.16,90.23 517.28,91.70 517.40,93.10 517.48,94.23 517.52,93.28 517.64,90.81 517.76,88.85 517.88,85.84 518.00,83.45 518.12,81.40 518.24,78.96 518.24,78.64 518.36,78.22 518.48,77.39 518.57,78.14 518.60,76.90 518.72,77.51 518.84,76.65 518.96,75.74 519.08,75.41 519.08,75.68 519.20,74.04 519.32,75.90 519.44,75.58 519.56,77.14 519.59,75.55 519.68,76.60 519.80,74.05 519.92,76.03 520.04,75.50 520.16,74.99 520.26,74.92 520.28,74.82 520.40,75.19 520.52,74.76 520.64,73.61 520.76,74.58 520.88,76.08 520.93,74.63 521.00,74.53 521.12,73.59 521.24,73.53 521.36,73.07 521.48,72.32 521.60,72.58 521.61,71.40 521.72,71.53 521.84,71.53 521.96,70.63 522.08,69.60 522.20,70.36 522.20,69.38 522.32,70.09 522.44,70.22 522.56,71.05 522.62,71.02 522.68,71.12 522.80,72.12 522.92,73.08 522.95,72.00 523.04,57.95 523.16,38.52 523.28,19.10 523.28,19.10 523.40,38.55 523.52,58.01 523.62,73.23 523.64,73.36 523.76,74.07 523.88,74.96 524.60,80.50 525.10,82.00 525.70,85.50"/>
<text class="t tk" text-anchor="middle" x="407.30" y="104.90">0</text>
<text class="t tk" text-anchor="middle" x="430.48" y="104.90">500</text>
<text class="t tk" text-anchor="middle" x="453.66" y="104.90">1000</text>
<text class="t tk" text-anchor="middle" x="476.84" y="104.90">1500</text>
<text class="t tk" text-anchor="middle" x="500.02" y="104.90">2000</text>
<text class="t tk" text-anchor="middle" x="523.20" y="104.90">2500</text>
<text class="t tk" text-anchor="end" x="397.80" y="25.70">30</text>
<text class="t tk" text-anchor="end" x="397.80" y="42.10">20</text>
<text class="t tk" text-anchor="end" x="397.80" y="58.60">10</text>
<text class="t tk" text-anchor="end" x="397.80" y="75.00">0</text>
<text class="t tk" text-anchor="end" x="397.80" y="91.40">−10</text>
<text class="t tt" transform="translate(466.60 11.50) scale(1 1.03)">ECG segment with quality &gt; 0.8</text>
<text class="t tt" transform="translate(466.60 113.20) scale(1 1.03)">10 seconds at 256 Hz sampling frequency</text>
<text class="t tt" transform="translate(387.30 56.00) rotate(-90)">Amplitude</text>
<text class="cap" x="460.30" y="138.40">(<tspan font-weight="bold">c</tspan>)</text>
</g>
<g id="panel-d">
<rect x="25.00" y="183.00" width="129.20" height="83.00" fill="#EAEAF2"/>
<path class="g" d="M30.50 183.00V266.00M53.50 183.00V266.00M76.50 183.00V266.00M99.50 183.00V266.00M122.50 183.00V266.00M145.50 183.00V266.00M25.00 191.50H154.20M25.00 201.60H154.20M25.00 211.70H154.20M25.00 221.80H154.20M25.00 231.90H154.20M25.00 242.00H154.20M25.00 252.10H154.20M25.00 262.20H154.20"/>
<clipPath id="cp3"><rect x="25.00" y="183.00" width="129.20" height="83.00"/></clipPath>
<polyline class="d" stroke-width="0.95" clip-path="url(#cp3)" points="30.60,242.32 32.79,242.32 33.70,240.14 34.61,242.32 39.16,242.69 43.72,240.50 45.54,239.04 46.99,240.87 51.00,242.69 52.82,244.14 54.64,243.23 56.47,241.96 57.92,240.50 59.20,236.49 61.02,239.59 63.75,242.32 66.48,242.69 67.40,240.87 68.31,242.69 71.04,242.32 71.77,242.32 72.13,235.40 72.86,242.32 74.68,244.14 76.50,241.96 85.61,241.41 86.52,239.04 87.43,241.96 90.00,242.32 96.38,242.32 96.54,242.32 96.92,239.59 97.45,240.14 97.65,242.32 98.36,242.32 100.93,242.32 101.84,235.04 102.75,242.32 104.57,244.14 106.39,241.96 113.68,241.59 114.77,238.32 115.87,241.96 120.05,246.33 122.42,248.15 122.79,252.34 123.88,200.43 124.97,225.93 126.43,236.86 128.25,251.43 129.16,252.34 130.44,247.79 131.17,255.07 133.17,262.72 133.90,236.86 134.54,215.00 134.90,186.40 135.26,204.07 135.72,215.00 136.45,225.93 137.72,235.04 139.54,244.14 141.55,249.24 142.82,243.23 144.28,243.78 145.56,241.96 146.83,242.32 148.29,241.05"/>
<text class="t tk" text-anchor="middle" x="30.50" y="273.60">0</text>
<text class="t tk" text-anchor="middle" x="53.50" y="273.60">500</text>
<text class="t tk" text-anchor="middle" x="76.50" y="273.60">1000</text>
<text class="t tk" text-anchor="middle" x="99.50" y="273.60">1500</text>
<text class="t tk" text-anchor="middle" x="122.50" y="273.60">2000</text>
<text class="t tk" text-anchor="middle" x="145.50" y="273.60">2500</text>
<text class="t tk" text-anchor="end" x="21.00" y="192.80">12.5</text>
<text class="t tk" text-anchor="end" x="21.00" y="202.90">10.0</text>
<text class="t tk" text-anchor="end" x="21.00" y="213.00">7.5</text>
<text class="t tk" text-anchor="end" x="21.00" y="223.10">5.0</text>
<text class="t tk" text-anchor="end" x="21.00" y="233.20">2.5</text>
<text class="t tk" text-anchor="end" x="21.00" y="243.30">0.0</text>
<text class="t tk" text-anchor="end" x="21.00" y="253.40">−2.5</text>
<text class="t tk" text-anchor="end" x="21.00" y="263.50">−5.0</text>
<text class="t tt" transform="translate(89.60 180.80) scale(1 1.03)">ECG segment with quality &lt; 0.8</text>
<text class="t tt" transform="translate(89.60 281.90) scale(1 1.03)">10 seconds at 256 Hz sampling frequency</text>
<text class="t tt" transform="translate(9.70 224.50) rotate(-90)">Amplitude</text>
<text class="cap" x="82.80" y="306.90">(<tspan font-weight="bold">d</tspan>)</text>
</g>
<g id="panel-e">
<rect x="216.90" y="184.10" width="127.70" height="82.30" fill="#EAEAF2"/>
<path class="g" d="M222.30 184.10V266.40M245.15 184.10V266.40M268.00 184.10V266.40M290.85 184.10V266.40M313.70 184.10V266.40M336.55 184.10V266.40M216.90 194.10H344.60M216.90 204.80H344.60M216.90 215.60H344.60M216.90 226.40H344.60M216.90 237.10H344.60M216.90 247.80H344.60M216.90 258.50H344.60"/>
<clipPath id="cp4"><rect x="216.90" y="184.10" width="127.70" height="82.30"/></clipPath>
<polyline class="d" stroke-width="0.95" clip-path="url(#cp4)" points="222.34,257.81 223.25,261.99 224.71,257.81 225.98,244.14 226.89,222.29 227.62,187.31 228.72,222.29 229.63,247.79 230.90,257.81 232.72,263.27 234.18,257.81 235.46,244.14 236.37,233.21 237.46,251.43 238.73,247.79 240.19,254.16 241.10,247.79 241.83,234.13 242.92,249.61 243.83,241.41 245.11,252.34 246.57,245.05 247.84,246.88 249.66,253.25 251.48,245.97 252.76,242.32 253.85,245.97 255.13,244.14 256.40,250.52 257.50,242.32 258.59,234.13 259.68,240.50 261.14,251.43 262.41,260.54 263.69,251.43 264.60,245.97 265.87,259.63 267.33,245.97 268.79,237.77 269.88,243.23 271.52,243.23 273.34,245.05 275.16,248.70 276.82,247.79 276.99,247.42 278.64,249.61 278.81,248.70 280.63,251.43 281.38,250.52 282.45,247.79 283.20,245.97 284.27,244.14 284.47,244.51 285.93,248.70 287.75,247.79 290.48,247.42 292.67,245.60 295.04,247.79 298.68,247.79 302.32,248.70 305.05,249.24 307.79,246.88 310.52,246.88 312.34,245.97 314.16,247.42 315.98,246.88 317.81,249.61 320.54,248.70 323.27,248.15 325.09,247.42 326.91,246.88 328.73,245.60 330.56,245.05 331.47,240.50 332.56,244.14 333.29,241.41 334.20,248.70 335.66,257.81 336.93,252.34 338.39,245.60"/>
<text class="t tk" text-anchor="middle" x="222.30" y="273.60">0</text>
<text class="t tk" text-anchor="middle" x="245.15" y="273.60">500</text>
<text class="t tk" text-anchor="middle" x="268.00" y="273.60">1000</text>
<text class="t tk" text-anchor="middle" x="290.85" y="273.60">1500</text>
<text class="t tk" text-anchor="middle" x="313.70" y="273.60">2000</text>
<text class="t tk" text-anchor="middle" x="336.55" y="273.60">2500</text>
<text class="t tk" text-anchor="end" x="212.90" y="195.40">1000</text>
<text class="t tk" text-anchor="end" x="212.90" y="206.10">800</text>
<text class="t tk" text-anchor="end" x="212.90" y="216.90">600</text>
<text class="t tk" text-anchor="end" x="212.90" y="227.70">400</text>
<text class="t tk" text-anchor="end" x="212.90" y="238.40">200</text>
<text class="t tk" text-anchor="end" x="212.90" y="249.10">0</text>
<text class="t tk" text-anchor="end" x="212.90" y="259.80">−200</text>
<text class="t tt" transform="translate(280.75 182.00) scale(1 1.03)">ECG segment with quality &lt; 0.8</text>
<text class="t tt" transform="translate(280.75 282.00) scale(1 1.03)">10 seconds at 256 Hz sampling frequency</text>
<text class="t tt" transform="translate(199.80 225.25) rotate(-90)">Amplitude</text>
<text class="cap" x="273.40" y="306.90">(<tspan font-weight="bold">e</tspan>)</text>
</g>
<g id="panel-f">
<rect x="405.10" y="182.80" width="130.10" height="83.05" fill="#EAEAF2"/>
<path class="g" d="M411.00 182.80V265.85M434.10 182.80V265.85M457.20 182.80V265.85M480.30 182.80V265.85M503.40 182.80V265.85M526.50 182.80V265.85M405.10 188.10H535.20M405.10 202.30H535.20M405.10 216.60H535.20M405.10 230.90H535.20M405.10 245.10H535.20M405.10 259.30H535.20"/>
<clipPath id="cp5"><rect x="405.10" y="182.80" width="130.10" height="83.05"/></clipPath>
<polyline class="d" stroke-width="0.95" clip-path="url(#cp5)" points="410.95,231.30 412.97,224.67 413.83,228.99 414.99,211.12 416.14,231.87 417.87,223.23 419.60,224.67 421.61,240.52 423.05,237.64 424.21,249.16 425.94,263.00 427.38,220.35 428.82,217.46 430.26,223.23 431.70,204.50 433.14,230.43 434.58,240.52 436.89,226.11 438.90,220.35 439.77,190.09 440.92,220.35 442.65,240.52 444.09,249.16 446.11,249.16 447.55,231.87 448.99,208.82 449.86,223.23 450.00,222.29 452.73,221.38 454.55,223.20 455.46,233.21 456.38,224.11 458.20,258.72 460.02,233.21 461.29,210.45 462.75,220.46 463.66,222.29 464.94,205.89 466.39,236.86 467.67,247.79 469.13,243.78 470.95,242.32 472.77,236.86 473.68,214.45 474.59,233.21 476.41,225.93 477.69,218.64 479.14,196.79 480.60,224.11 481.88,238.68 482.79,246.88 484.24,247.42 485.52,235.04 487.34,233.21 489.16,227.75 490.44,210.45 491.53,233.21 492.81,245.97 494.63,255.44 495.90,236.86 496.45,209.54 497.54,207.35 498.82,185.86 500.09,215.00 501.91,227.75 503.73,231.39 505.56,238.68 506.83,244.14 507.56,233.21 507.92,223.20 508.29,233.21 508.83,245.97 509.74,247.79 511.93,238.68 513.75,231.39 515.57,192.23 516.48,207.35 517.40,208.08 518.31,222.29 520.13,236.86 521.40,245.97 522.86,233.21 524.32,207.35 525.59,227.75 526.87,235.04 528.32,228.66 529.42,226.29"/>
<text class="t tk" text-anchor="middle" x="411.00" y="273.60">0</text>
<text class="t tk" text-anchor="middle" x="434.10" y="273.60">500</text>
<text class="t tk" text-anchor="middle" x="457.20" y="273.60">1000</text>
<text class="t tk" text-anchor="middle" x="480.30" y="273.60">1500</text>
<text class="t tk" text-anchor="middle" x="503.40" y="273.60">2000</text>
<text class="t tk" text-anchor="middle" x="526.50" y="273.60">2500</text>
<text class="t tk" text-anchor="end" x="401.10" y="189.40">60</text>
<text class="t tk" text-anchor="end" x="401.10" y="203.60">40</text>
<text class="t tk" text-anchor="end" x="401.10" y="217.90">20</text>
<text class="t tk" text-anchor="end" x="401.10" y="232.20">0</text>
<text class="t tk" text-anchor="end" x="401.10" y="246.40">−20</text>
<text class="t tk" text-anchor="end" x="401.10" y="260.60">−40</text>
<text class="t tt" transform="translate(470.15 180.10) scale(1 1.03)">ECG segment with quality &lt; 0.8</text>
<text class="t tt" transform="translate(470.15 281.70) scale(1 1.03)">10 seconds at 256 Hz sampling frequency</text>
<text class="t tt" transform="translate(390.40 224.33) rotate(-90)">Amplitude</text>
<text class="cap" x="463.90" y="306.90">(<tspan font-weight="bold">f</tspan>)</text>
</g>
</svg></body></html>
